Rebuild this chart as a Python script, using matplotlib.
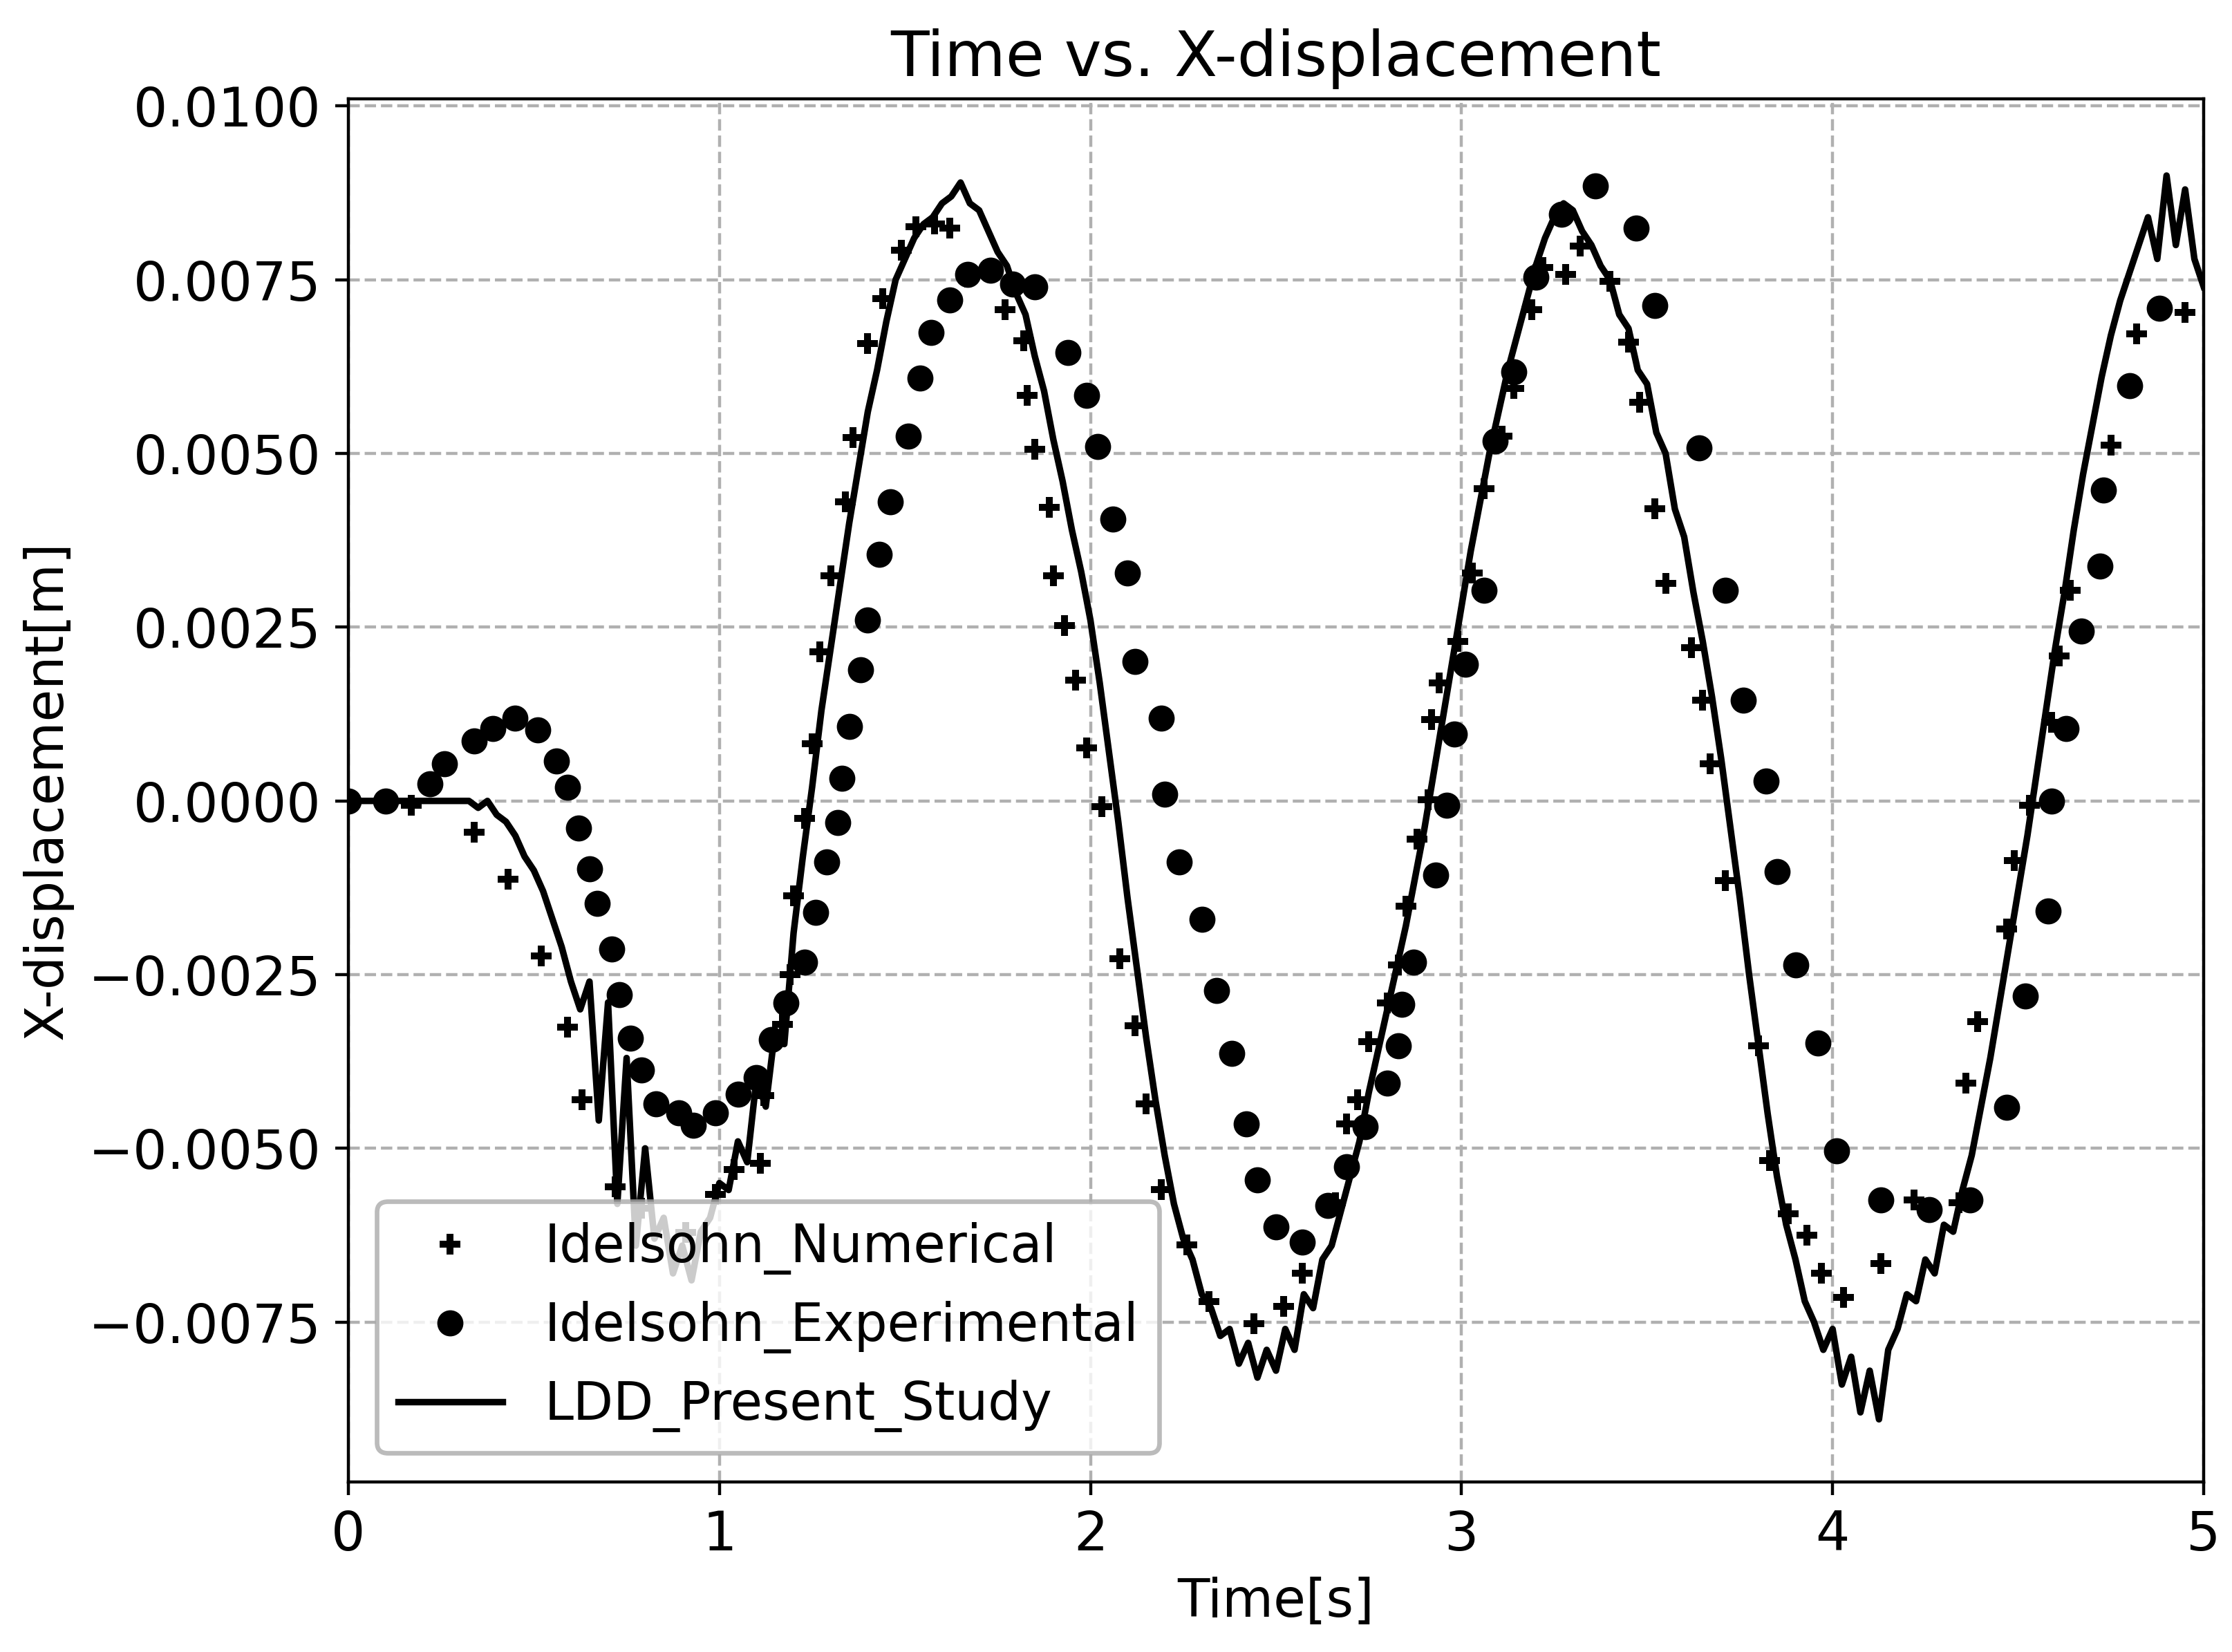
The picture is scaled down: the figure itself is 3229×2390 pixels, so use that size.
import numpy as np
import matplotlib
matplotlib.use("Agg")
import matplotlib.pyplot as plt

# Idelsohn numerical (time [s], displacement [mm])
num_t = [0.00, 0.17, 0.34, 0.43, 0.52, 0.59, 0.63, 0.72, 0.79, 0.91, 0.99, 1.04, 1.11, 1.12,
         1.17, 1.19, 1.20, 1.23, 1.25, 1.27, 1.30, 1.34, 1.36, 1.40, 1.44, 1.49, 1.53, 1.58,
         1.62, 1.67, 1.72, 1.77, 1.82, 1.83, 1.85, 1.89, 1.90, 1.93, 1.96, 1.99, 2.03, 2.08,
         2.12, 2.15, 2.19, 2.26, 2.32, 2.44, 2.52, 2.57, 2.66, 2.69, 2.72, 2.75, 2.80, 2.83,
         2.85, 2.88, 2.91, 2.92, 2.94, 2.99, 3.03, 3.06, 3.11, 3.14, 3.19, 3.22, 3.28, 3.32,
         3.40, 3.45, 3.48, 3.52, 3.55, 3.62, 3.65, 3.67, 3.71, 3.80, 3.83, 3.88, 3.93, 3.97,
         4.03, 4.13, 4.22, 4.34, 4.36, 4.39, 4.47, 4.49, 4.53, 4.59, 4.61, 4.64, 4.75, 4.82,
         4.95]
num_x = [0.00, -0.06, -0.45, -1.13, -2.23, -3.26, -4.30, -5.55, -5.86, -6.21, -5.66, -5.31,
         -5.22, -4.24, -3.22, -2.50, -1.37, -0.25, 0.82, 2.15, 3.24, 4.30, 5.23, 6.58, 7.23,
         7.93, 8.26, 8.30, 8.24, 7.54, 7.64, 7.07, 6.62, 5.84, 5.06, 4.22, 3.24, 2.52, 1.74,
         0.76, -0.08, -2.27, -3.24, -4.36, -5.59, -6.39, -7.21, -7.52, -7.27, -6.80, -5.78,
         -4.65, -4.30, -3.46, -2.91, -2.36, -1.52, -0.55, 0.02, 1.17, 1.70, 2.29, 3.28, 4.49,
         5.25, 5.94, 7.07, 7.68, 7.58, 7.99, 7.48, 6.60, 5.74, 4.20, 3.13, 2.21, 1.45, 0.53,
         -1.15, -3.52, -5.18, -5.94, -6.25, -6.80, -7.15, -6.66, -5.74, -5.78, -4.06, -3.18,
         -1.84, -0.86, -0.06, 1.13, 2.09, 3.03, 5.12, 6.72, 7.03]

# Idelsohn experimental (time [s], displacement [mm])
exp_t = [0.00, 0.10, 0.22, 0.26, 0.34, 0.39, 0.45, 0.51, 0.56, 0.59, 0.62, 0.65, 0.67, 0.71,
         0.73, 0.76, 0.79, 0.83, 0.89, 0.93, 0.99, 1.05, 1.10, 1.14, 1.18, 1.23, 1.26, 1.29,
         1.32, 1.33, 1.35, 1.38, 1.40, 1.43, 1.46, 1.51, 1.54, 1.57, 1.62, 1.67, 1.73, 1.79,
         1.85, 1.94, 1.99, 2.02, 2.06, 2.10, 2.12, 2.19, 2.20, 2.24, 2.30, 2.34, 2.38, 2.42,
         2.45, 2.50, 2.57, 2.64, 2.69, 2.74, 2.80, 2.83, 2.84, 2.87, 2.93, 2.96, 2.98, 3.01,
         3.06, 3.09, 3.14, 3.20, 3.27, 3.36, 3.47, 3.52, 3.64, 3.71, 3.76, 3.82, 3.85, 3.90,
         3.96, 4.01, 4.13, 4.26, 4.37, 4.47, 4.52, 4.58, 4.59, 4.63, 4.67, 4.72, 4.73, 4.80,
         4.88]
exp_x = [0.00, 0.00, 0.25, 0.53, 0.86, 1.04, 1.19, 1.02, 0.57, 0.20, -0.39, -0.98, -1.48,
         -2.13, -2.79, -3.42, -3.87, -4.36, -4.49, -4.67, -4.49, -4.22, -3.98, -3.44, -2.91,
         -2.32, -1.60, -0.88, -0.31, 0.33, 1.07, 1.89, 2.60, 3.55, 4.30, 5.25, 6.09, 6.74,
         7.21, 7.58, 7.64, 7.44, 7.40, 6.45, 5.84, 5.10, 4.06, 3.28, 2.01, 1.19, 0.10, -0.88,
         -1.70, -2.73, -3.63, -4.65, -5.45, -6.13, -6.35, -5.82, -5.27, -4.69, -4.06, -3.52,
         -2.93, -2.32, -1.07, -0.06, 0.96, 1.97, 3.03, 5.18, 6.17, 7.54, 8.44, 8.85, 8.24,
         7.13, 5.08, 3.03, 1.45, 0.29, -1.02, -2.36, -3.48, -5.04, -5.74, -5.88, -5.74, -4.41,
         -2.81, -1.58, 0.00, 1.04, 2.44, 3.38, 4.47, 5.98, 7.09]

# LDD present study, sampled every 0.025 s from t = 0 to 5 [mm]
ldd_x = [0, 0, 0, 0, 0, 0, 0, 0, 0, 0, 0, 0, 0, 0,
         -0.1, 0.0, -0.2, -0.3, -0.5, -0.8, -1.0, -1.3, -1.7, -2.1, -2.6, -3.0, -2.6, -4.6,
         -2.9, -5.8, -3.7, -6.4, -5.0, -6.3, -6.0, -6.8, -6.4, -6.9, -6.2, -6.0, -5.5, -5.6,
         -4.9, -5.2, -4.0, -4.4, -3.3, -3.5, -1.9, -0.8, 0.2, 1.3, 2.2, 3.1, 4.0, 4.8, 5.6,
         6.2, 6.9, 7.5, 7.8, 8.1, 8.3, 8.4, 8.6, 8.7, 8.9, 8.6, 8.5, 8.2, 7.9, 7.7, 7.3, 7.0,
         6.4, 5.9, 5.2, 4.6, 3.9, 3.3, 2.6, 1.7, 0.7, -0.3, -1.4, -2.4, -3.4, -4.3, -5.1, -5.8,
         -6.3, -6.6, -7.1, -7.3, -7.7, -7.6, -8.1, -7.8, -8.3, -7.9, -8.2, -7.6, -7.9, -7.1,
         -7.3, -6.6, -6.4, -5.9, -5.4, -4.9, -4.2, -3.6, -3.0, -2.4, -1.8, -1.1, -0.4, 0.4,
         1.2, 2.0, 2.8, 3.6, 4.3, 5.0, 5.6, 6.2, 6.7, 7.2, 7.7, 8.1, 8.4, 8.6, 8.5, 8.2, 8.0,
         7.7, 7.5, 7.0, 6.8, 6.2, 6.0, 5.3, 5.0, 4.2, 3.8, 3.0, 2.3, 1.5, 0.6, -0.4, -1.4,
         -2.5, -3.5, -4.5, -5.4, -6.1, -6.6, -7.2, -7.5, -7.9, -7.6, -8.4, -8.0, -8.8, -8.2,
         -8.9, -7.9, -7.6, -7.1, -7.2, -6.6, -6.8, -6.1, -6.2, -5.6, -5.1, -4.4, -3.7, -2.9,
         -2.1, -1.3, -0.5, 0.4, 1.3, 2.2, 3.0, 3.9, 4.7, 5.4, 6.1, 6.7, 7.2, 7.6, 8.0, 8.4,
         7.8, 9.0, 8.0, 8.8, 7.8, 7.4]
ldd_t = np.linspace(0, 5, len(ldd_x))

fig = plt.figure(figsize=(8.075, 5.975), dpi=400)
ax = fig.add_axes([0.156, 0.103, 0.831, 0.837])

ax.plot(num_t, np.array(num_x) * 1e-3, '+', color='black', markersize=5.5, mew=1.8,
        label='Idelsohn_Numerical')
ax.plot(exp_t, np.array(exp_x) * 1e-3, 'o', color='black', markersize=5.8,
        label='Idelsohn_Experimental')
ax.plot(ldd_t, np.array(ldd_x) * 1e-3, '-', color='black', linewidth=1.7,
        label='LDD_Present_Study')

ax.set_xlim(0, 5)
ax.set_ylim(-0.0098, 0.0101)
ax.set_yticks([-0.0075, -0.005, -0.0025, 0, 0.0025, 0.005, 0.0075, 0.01])
ax.set_yticklabels(['\u22120.0075', '\u22120.0050', '\u22120.0025', '0.0000',
                    '0.0025', '0.0050', '0.0075', '0.0100'])
ax.tick_params(labelsize=14)
ax.grid(True, linestyle='--', color='#b0b0b0', linewidth=0.8)
ax.set_xlabel('Time[s]', fontsize=13.7)
ax.set_ylabel('X-displacement[m]', fontsize=13.7)
ax.set_title('Time vs. X-displacement', fontsize=16.4)
leg = ax.legend(loc='lower left', fontsize=13.6, borderaxespad=0.55)
leg.get_frame().set_linewidth(1.2)
leg.get_frame().set_edgecolor('#aaaaaa')

fig.savefig('out.png', dpi=400)
